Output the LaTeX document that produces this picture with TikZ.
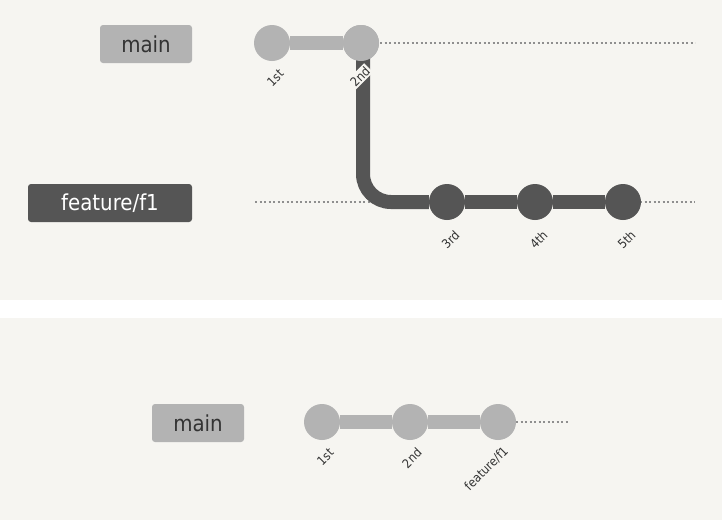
\documentclass[tikz,border=0pt]{standalone}
\usepackage{fontspec}
\setmainfont{DejaVu Sans Condensed}
\definecolor{bg}{HTML}{F6F5F1}
\definecolor{lg}{HTML}{B3B3B3}
\definecolor{dg}{HTML}{555555}
\definecolor{dt}{HTML}{333333}
\begin{document}
\begin{tikzpicture}[x=1pt,y=-1pt,
  lbl/.style={rounded corners=3pt,minimum height=38,inner xsep=6,font=\fontsize{22}{24}\selectfont},
  mainlbl/.style={lbl,fill=lg,text=dt},
  featlbl/.style={lbl,fill=dg,text=white},
  lc/.style={circle,fill=lg,minimum size=36,inner sep=0},
  dc/.style={circle,fill=dg,minimum size=36,inner sep=0},
  tag/.style={rotate=45,anchor=east,fill=bg,inner sep=1.5,font=\fontsize{12.5}{13}\selectfont,text=dt},
  dots/.style={lg!80!black,line width=1.5,dash pattern=on 2 off 2.5},
  lline/.style={lg,line width=14},
  dline/.style={dg,line width=14}]
\useasboundingbox (0,0) rectangle (722,520);
\fill[bg] (0,0) rectangle (722,300);
\fill[white] (0,300) rectangle (722,318);
\fill[bg] (0,318) rectangle (722,520);
% top
\node[mainlbl,minimum width=92] (m) at (146,44) {main};
\node[featlbl,minimum width=164] (f) at (110,203) {feature/f1};
\coordinate (fs) at (255,202);
\coordinate (ms) at (695,43);
\coordinate (fe) at (695,202);
\draw[dots] (fs) -- (430,202);
\draw[dots] (380,43) -- (ms);
\draw[dots] (640,202) -- (fe);
\node[lc] (c1) at (272,43) {};
\node[lc] (c2) at (361,43) {};
\node[dc] (c3) at (447,202) {};
\node[dc] (c4) at (535,202) {};
\node[dc] (c5) at (623,202) {};
\draw[lline] (c1) -- (c2);
\draw[dline,rounded corners=28] (363,58) |- (c3);
\draw[dline] (c3) -- (c4) -- (c5);
\node[lc] at (c2) {};
\node[tag] (t1) at (c1.south) [yshift=-14,xshift=1] {1st};
\node[tag] (t2) at (c2.south) [yshift=-10,xshift=1] {2nd};
\node[tag] (t3) at (c3.south) [yshift=-16,xshift=0] {3rd};
\node[tag] (t4) at (c4.south) [yshift=-16,xshift=0] {4th};
\node[tag] (t5) at (c5.south) [yshift=-16,xshift=0] {5th};
% bottom
\node[mainlbl,minimum width=92] (m2) at (198,423) {main};
\node[lc] (b1) at (322,422) {};
\node[lc] (b2) at (410,422) {};
\node[lc] (b3) at (498,422) {};
\coordinate (be) at (568,422);
\draw[lline] (b1) -- (b2) -- (b3);
\draw[dots] (b3.east) -- (be);
\node[tag] (u1) at (b1.south) [yshift=-14,xshift=1] {1st};
\node[tag] (u2) at (b2.south) [yshift=-14,xshift=1] {2nd};
\node[tag] (u3) at (b3.south) [yshift=-12,xshift=1] {feature/f1};
\end{tikzpicture}
\end{document}
